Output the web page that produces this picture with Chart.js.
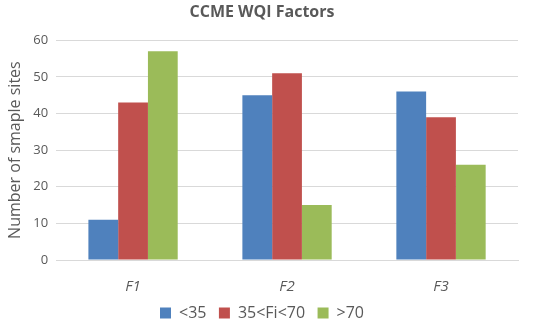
<!DOCTYPE html>
<html>
<head>
<meta charset="utf-8">
<script src="https://cdn.jsdelivr.net/npm/chart.js@4"></script>
<style>
  html, body { margin: 0; padding: 0; background: #fff; }
  #wrap { width: 550px; height: 326px; }
</style>
</head>
<body>
<div id="wrap"><canvas id="c"></canvas></div>
<script>
const categories = ['F1', 'F2', 'F3'];
const seriesNames = ['<35', '35<Fi<70', '>70'];
const below35 = [11, 45, 46];
const between35and70 = [43, 51, 39];
const above70 = [57, 15, 26];
const colors = ['#4F81BD', '#C0504D', '#9BBB59'];

const font = "'Open Sans', sans-serif";
const grey = '#595959';

// keep the legend band short so the plot reaches further down
const legendBand = {
    id: 'legendBand',
    beforeLayout(chart) {
        const lg = chart.legend;
        if (!lg || lg._bandPatched) return;
        const fit = lg.fit;
        lg.fit = function() {
            fit.call(this);
            this.height = 21;
        };
        lg._bandPatched = true;
    }
};

new Chart(document.getElementById('c'), {
    type: 'bar',
    data: {
        labels: categories,
        datasets: [below35, between35and70, above70].map((vals, i) => ({
            label: seriesNames[i],
            data: vals,
            backgroundColor: colors[i],
            categoryPercentage: 0.58,
            barPercentage: 1.0
        }))
    },
    plugins: [legendBand],
    options: {
        responsive: true,
        maintainAspectRatio: false,
        animation: false,
        layout: {padding: {left: 6, right: 32, top: 0, bottom: 0}},
        plugins: {
            title: {
                display: true,
                text: 'CCME WQI Factors',
                color: grey,
                font: {family: font, size: 16, weight: 'bold'},
                padding: {top: 3, bottom: 18}
            },
            legend: {
                position: 'bottom',
                labels: {
                    color: grey,
                    font: {family: font, size: 16},
                    boxWidth: 11,
                    boxHeight: 11,
                    padding: 0,
                    generateLabels(chart) {
                        const items = Chart.defaults.plugins.legend.labels.generateLabels(chart);
                        items.forEach((it, i) => {
                            if (i < items.length - 1) it.text += '   ';
                        });
                        return items;
                    }
                }
            },
            tooltip: {enabled: false}
        },
        scales: {
            x: {
                grid: {display: false},
                border: {color: '#d9d9d9'},
                ticks: {
                    color: grey,
                    font: {family: font, size: 15, style: 'italic', lineHeight: 1},
                    padding: 11
                }
            },
            y: {
                min: 0,
                max: 60,
                ticks: {
                    stepSize: 10,
                    color: grey,
                    font: {family: font, size: 13},
                    padding: 8
                },
                grid: {color: '#d9d9d9', drawTicks: false},
                border: {display: false},
                title: {
                    display: true,
                    text: 'Number of smaple sites',
                    color: grey,
                    font: {family: font, size: 16},
                    padding: {top: 0, bottom: 0}
                }
            }
        }
    }
});
</script>
</body>
</html>
